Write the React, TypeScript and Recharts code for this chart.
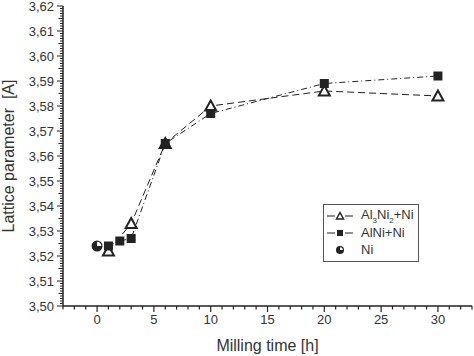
import { Label, Legend, Line, LineChart, XAxis, YAxis } from "recharts";

const al3ni2Hours = [1, 3, 6, 10, 20, 30];
const al3ni2Values = [3.522, 3.533, 3.565, 3.58, 3.586, 3.584];

const alniHours = [1, 2, 3, 6, 10, 20, 30];
const alniValues = [3.524, 3.526, 3.527, 3.565, 3.577, 3.589, 3.592];

const niHours = [0];
const niValues = [3.524];

const xLabelTicks = [0, 5, 10, 15, 20, 25, 30];

const al3ni2Data = al3ni2Hours.map((t, i) => ({ t, v: al3ni2Values[i] }));
const alniData = alniHours.map((t, i) => ({ t, v: alniValues[i] }));
const niData = niHours.map((t, i) => ({ t, v: niValues[i] }));

// minor ticks: every hour on x, every 0.001 on y
const xTicks = Array.from({ length: 37 }, (_, i) => i - 3);
const yTicks = Array.from({ length: 121 }, (_, i) => (3500 + i) / 1000);

const ink = "#222";
const textColor = "#333";
const font = "'Liberation Sans', Arial, sans-serif";

function Triangle({ cx, cy }: any) {
  if (cx == null || cy == null) return null;
  return (
    <path
      d={`M${cx},${cy - 5.5} L${cx + 5.5},${cy + 4.5} L${cx - 5.5},${cy + 4.5} Z`}
      fill="#fff"
      stroke={ink}
      strokeWidth={2}
    />
  );
}

function Square({ cx, cy }: any) {
  if (cx == null || cy == null) return null;
  return <rect x={cx - 4.5} y={cy - 4.5} width={9} height={9} fill={ink} />;
}

function Ball({ cx, cy, size = 5.5 }: any) {
  if (cx == null || cy == null) return null;
  const r = size;
  return (
    <g>
      <circle cx={cx} cy={cy} r={r} fill={ink} />
      <path
        d={`M${cx},${cy} L${cx},${cy - r + 1.2} A${r - 1.2},${r - 1.2} 0 0 1 ${cx + r - 1.2},${cy} Z`}
        fill="#fff"
      />
    </g>
  );
}

function YTick({ x, y, payload }: any) {
  const milli = Math.round(payload.value * 1000);
  const major = milli % 10 === 0;
  const mid = milli % 5 === 0;
  const len = major ? 6 : mid ? 4.5 : 3;
  return (
    <g>
      <line x1={x} x2={x - len} y1={y} y2={y} stroke={ink} strokeWidth={1} />
      {major && (
        <text
          x={x - 9}
          y={y}
          dy={4.5}
          textAnchor="end"
          fontSize={13}
          fontFamily={font}
          fill={textColor}
        >
          {payload.value.toFixed(2).replace(".", ",")}
        </text>
      )}
    </g>
  );
}

function XTick({ x, y, payload }: any) {
  const major = payload.value % 5 === 0;
  const showLabel = xLabelTicks.includes(payload.value);
  return (
    <g>
      <line x1={x} x2={x} y1={y} y2={y + (major ? 6 : 3.5)} stroke={ink} strokeWidth={1.2} />
      {showLabel && (
        <text
          x={x}
          y={y + 18}
          textAnchor="middle"
          fontSize={13}
          fontFamily={font}
          fill={textColor}
        >
          {payload.value}
        </text>
      )}
    </g>
  );
}

function LegendBox() {
  const row = { display: "flex", alignItems: "center", height: 17 } as const;
  const sym = { width: 30, height: 12, marginRight: 6 } as const;
  return (
    <div
      style={{
        border: "1px solid #555",
        background: "#fff",
        padding: "2px 0 3px 1px",
        fontFamily: font,
        fontSize: 13,
        color: textColor,
        width: 96,
        boxSizing: "border-box",
      }}
    >
      <div style={row}>
        <svg style={sym}>
          <line x1={2} x2={10} y1={6} y2={6} stroke={ink} strokeWidth={1} />
          <line x1={20} x2={28} y1={6} y2={6} stroke={ink} strokeWidth={1} />
          <path d="M15,2.5 L18.5,9 L11.5,9 Z" fill="#fff" stroke={ink} strokeWidth={1.5} />
        </svg>
        <span>
          Al<sub style={{ fontSize: 8 }}>3</sub>Ni<sub style={{ fontSize: 8 }}>2</sub>+Ni
        </span>
      </div>
      <div style={row}>
        <svg style={sym}>
          <line x1={2} x2={10} y1={6} y2={6} stroke={ink} strokeWidth={1} />
          <line x1={20} x2={28} y1={6} y2={6} stroke={ink} strokeWidth={1} />
          <rect x={12} y={3} width={6} height={6} fill={ink} />
        </svg>
        <span>AlNi+Ni</span>
      </div>
      <div style={row}>
        <svg style={sym}>
          <Ball cx={15} cy={6} size={4} />
        </svg>
        <span>Ni</span>
      </div>
    </div>
  );
}

export default function App() {
  return (
    <div style={{ position: "relative", width: 474, height: 356, background: "#fff" }}>
      <style>{`body{margin:0}`}</style>
      <LineChart width={474} height={356} margin={{ top: 6, right: 2, bottom: 0, left: 0 }}>
        <XAxis
          dataKey="t"
          type="number"
          domain={[-3, 33]}
          ticks={xTicks}
          interval={0}
          tick={<XTick />}
          tickLine={false}
          tickSize={0}
          tickMargin={0}
          height={50}
          axisLine={{ stroke: ink, strokeWidth: 1.5 }}
          allowDuplicatedCategory={false}
        >
          <Label
            value="Milling time [h]"
            position="insideBottom"
            offset={5}
            style={{ fontSize: 16, fontFamily: font, fill: textColor }}
          />
        </XAxis>
        <XAxis
          xAxisId="top"
          orientation="top"
          type="number"
          domain={[-3, 33]}
          height={0}
          tick={false}
          tickLine={false}
          axisLine={{ stroke: "#bbb", strokeWidth: 1 }}
        />
        <YAxis
          dataKey="v"
          type="number"
          domain={[3.5, 3.62]}
          ticks={yTicks}
          interval={0}
          tick={<YTick />}
          tickLine={false}
          tickSize={0}
          tickMargin={0}
          width={63}
          axisLine={{ stroke: ink, strokeWidth: 1.5 }}
        >
          <Label
            content={({ viewBox }: any) => (
              <text
                transform={`translate(14,${viewBox.y + viewBox.height / 2}) rotate(-90)`}
                textAnchor="middle"
                fontSize={16}
                fontFamily={font}
                fill={textColor}
                style={{ whiteSpace: "pre" }}
              >
                Lattice parameter  [A]
              </text>
            )}
          />
        </YAxis>
        <YAxis
          yAxisId="right"
          orientation="right"
          type="number"
          domain={[3.5, 3.62]}
          width={0}
          tick={false}
          tickLine={false}
          axisLine={{ stroke: "#999", strokeWidth: 3 }}
        />
        <Line
          data={al3ni2Data}
          dataKey="v"
          name="Al3Ni2+Ni"
          stroke={ink}
          strokeWidth={1}
          strokeDasharray="7 4"
          dot={<Triangle />}
          activeDot={false}
          isAnimationActive={false}
        />
        <Line
          data={alniData}
          dataKey="v"
          name="AlNi+Ni"
          stroke={ink}
          strokeWidth={1}
          strokeDasharray="6 3 1 3"
          dot={<Square />}
          activeDot={false}
          isAnimationActive={false}
        />
        <Line
          data={niData}
          dataKey="v"
          name="Ni"
          stroke="none"
          dot={<Ball />}
          activeDot={false}
          isAnimationActive={false}
        />
        <Legend
          layout="vertical"
          align="center"
          verticalAlign="middle"
          content={<LegendBox />}
          wrapperStyle={{ left: 323, top: 204, width: 96 }}
        />
      </LineChart>
    </div>
  );
}
